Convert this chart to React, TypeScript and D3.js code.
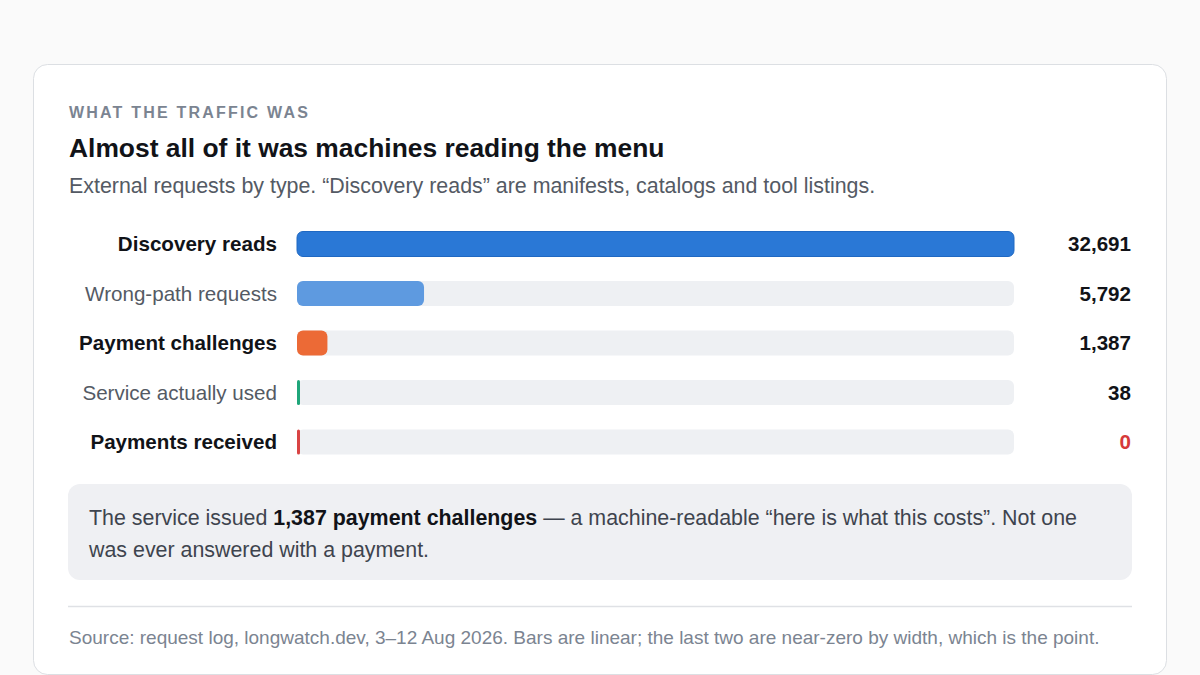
import React, { useRef, useEffect } from "react";
import * as d3 from "d3";

// Request counts by type
const categories = [
  "Discovery reads",
  "Wrong-path requests",
  "Payment challenges",
  "Service actually used",
  "Payments received",
];
const counts = [32691, 5792, 1387, 38, 0];
const emphasised = [true, false, true, false, true];
const barColors = ["#2a78d6", "#5e9ae0", "#ec6a36", "#1fa67a", "#d94444"];

const FONT = "'Liberation Sans', Arial, Helvetica, sans-serif";

export default function App() {
  const svgRef = useRef<SVGSVGElement>(null);

  useEffect(() => {
    if (!svgRef.current) return;
    const svg = d3.select(svgRef.current);
    svg.selectAll("*").remove();

    const width = 1200;
    const height = 675;

    svg.append("rect").attr("width", width).attr("height", height).attr("fill", "#fafafa");

    // Card
    svg.append("rect")
      .attr("x", 33.5)
      .attr("y", 64.5)
      .attr("width", 1133)
      .attr("height", 610)
      .attr("rx", 14)
      .attr("fill", "#ffffff")
      .attr("stroke", "#dcdfe3");

    // Header
    svg.append("text")
      .attr("x", 69)
      .attr("y", 118)
      .style("font-family", FONT)
      .style("font-size", "16px")
      .style("font-weight", 700)
      .style("letter-spacing", "2.2px")
      .style("fill", "#7b8491")
      .text("WHAT THE TRAFFIC WAS");

    svg.append("text")
      .attr("x", 69)
      .attr("y", 157)
      .style("font-family", FONT)
      .style("font-size", "26.4px")
      .style("font-weight", 700)
      .style("fill", "#111318")
      .text("Almost all of it was machines reading the menu");

    svg.append("text")
      .attr("x", 69)
      .attr("y", 193)
      .style("font-family", FONT)
      .style("font-size", "21.4px")
      .style("fill", "#545a64")
      .text("External requests by type. \u201CDiscovery reads\u201D are manifests, catalogs and tool listings.");

    // Scales
    const xScale = d3.scaleLinear()
      .domain([0, d3.max(counts) || 1])
      .range([297, 1014]);

    const yScale = d3.scalePoint<string>()
      .domain(categories)
      .range([244, 442]);

    const barH = 25;
    const minW = 3;

    const rows = svg.selectAll(".row")
      .data(categories)
      .enter()
      .append("g")
      .attr("class", "row");

    // Tracks
    rows.append("rect")
      .attr("x", xScale(0))
      .attr("y", d => (yScale(d) || 0) - barH / 2)
      .attr("width", xScale.range()[1] - xScale.range()[0])
      .attr("height", barH)
      .attr("rx", 6)
      .attr("fill", "#eef0f3");

    // Bars
    rows.append("rect")
      .attr("x", xScale(0))
      .attr("y", d => (yScale(d) || 0) - barH / 2)
      .attr("width", (d, i) => Math.max(minW, xScale(counts[i]) - xScale(0)))
      .attr("height", barH)
      .attr("rx", (d, i) => (xScale(counts[i]) - xScale(0) > 12 ? 6 : 1.5))
      .attr("fill", (d, i) => barColors[i])
      .attr("stroke", (d, i) => (i === 0 ? "#1f68c2" : "none"))
      .attr("stroke-width", 1);

    // Category labels
    rows.append("text")
      .attr("x", 277)
      .attr("y", d => (yScale(d) || 0) + 7)
      .attr("text-anchor", "end")
      .style("font-family", FONT)
      .style("font-size", "20.6px")
      .style("font-weight", (d, i) => (emphasised[i] ? 700 : 400))
      .style("fill", (d, i) => (emphasised[i] ? "#111318" : "#545a64"))
      .text(d => d);

    // Values
    rows.append("text")
      .attr("x", 1131)
      .attr("y", d => (yScale(d) || 0) + 7)
      .attr("text-anchor", "end")
      .style("font-family", FONT)
      .style("font-size", "20.6px")
      .style("font-weight", 700)
      .style("fill", (d, i) => (counts[i] === 0 ? "#d63a3a" : "#111318"))
      .text((d, i) => d3.format(",")(counts[i]));

    // Callout
    svg.append("rect")
      .attr("x", 68)
      .attr("y", 484)
      .attr("width", 1064)
      .attr("height", 96)
      .attr("rx", 12)
      .attr("fill", "#eff0f3");

    const line1 = svg.append("text")
      .attr("x", 89)
      .attr("y", 525)
      .style("font-family", FONT)
      .style("font-size", "21.4px")
      .style("fill", "#3e444e");
    line1.append("tspan").text("The service issued ");
    line1.append("tspan").style("font-weight", 700).style("fill", "#111318").text("1,387 payment challenges");
    line1.append("tspan").text(" \u2014 a machine-readable \u201Chere is what this costs\u201D. Not one");

    svg.append("text")
      .attr("x", 89)
      .attr("y", 557)
      .style("font-family", FONT)
      .style("font-size", "21.4px")
      .style("fill", "#3e444e")
      .text("was ever answered with a payment.");

    // Divider + source
    svg.append("line")
      .attr("x1", 68)
      .attr("x2", 1132)
      .attr("y1", 606.5)
      .attr("y2", 606.5)
      .attr("stroke", "#dfe1e5")
      .attr("stroke-width", 1.5);

    svg.append("text")
      .attr("x", 69)
      .attr("y", 644)
      .style("font-family", FONT)
      .style("font-size", "19px")
      .style("fill", "#7b8491")
      .text("Source: request log, longwatch.dev, 3\u201312 Aug 2026. Bars are linear; the last two are near-zero by width, which is the point.");
  }, []);

  return (
    <svg
      ref={svgRef}
      width={1200}
      height={675}
      style={{ position: "absolute", left: 0, top: 0, display: "block" }}
    />
  );
}
